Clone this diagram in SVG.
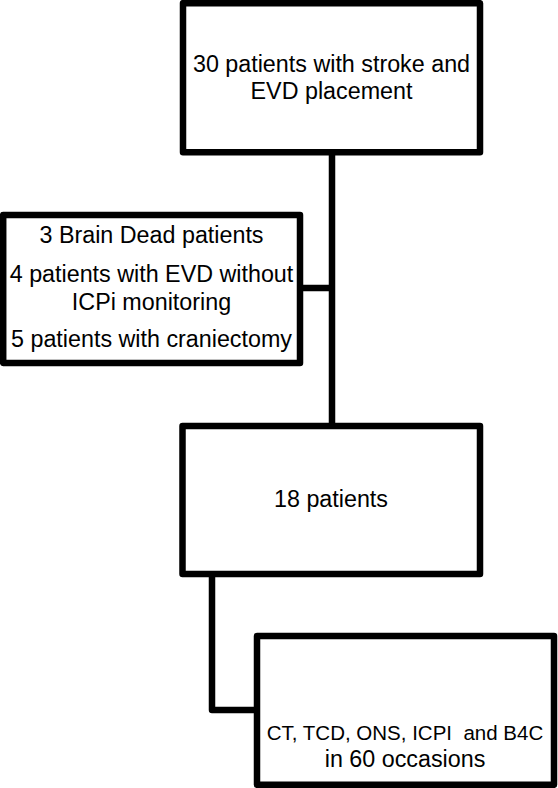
<svg xmlns="http://www.w3.org/2000/svg" width="558" height="788" viewBox="0 0 558 788">
<style>
.box{fill:#fff;stroke:#000;stroke-width:6.5;stroke-linejoin:round}
.con{fill:none;stroke:#000;stroke-width:6.5;stroke-linejoin:round}
text{font-family:"Liberation Sans",Arial,sans-serif;font-size:23.3px;fill:#000;text-anchor:middle}
text.sm{font-size:20.5px}
</style>
<rect width="558" height="788" fill="#fff"/>
<g id="connectors">
<polyline class="con" points="332,155 332,423"/>
<polyline class="con" points="303,288 332,288"/>
<polyline class="con" points="212,577 212,710 254,710"/>
</g>
<g id="n1">
<rect class="box" x="183" y="3.2" width="297" height="149"/>
<text x="331.5" y="72">30 patients with stroke and</text>
<text x="331.5" y="99">EVD placement</text>
</g>
<g id="n2">
<rect class="box" x="3.2" y="215" width="296.8" height="148"/>
<text x="151.5" y="243">3 Brain Dead patients</text>
<text x="151.5" y="282">4 patients with EVD without</text>
<text x="151.5" y="310">ICPi monitoring</text>
<text x="151.5" y="347">5 patients with craniectomy</text>
</g>
<g id="n4">
<rect class="box" x="257" y="636" width="297" height="148.8"/>
<text class="sm" x="405" y="740" xml:space="preserve">CT, TCD, ONS, ICPI  and B4C</text>
<text x="405" y="767">in 60 occasions</text>
</g>
<g id="n3">
<rect class="box" x="182.5" y="426" width="297.5" height="148"/>
<text x="331" y="507">18 patients</text>
</g>
</svg>
